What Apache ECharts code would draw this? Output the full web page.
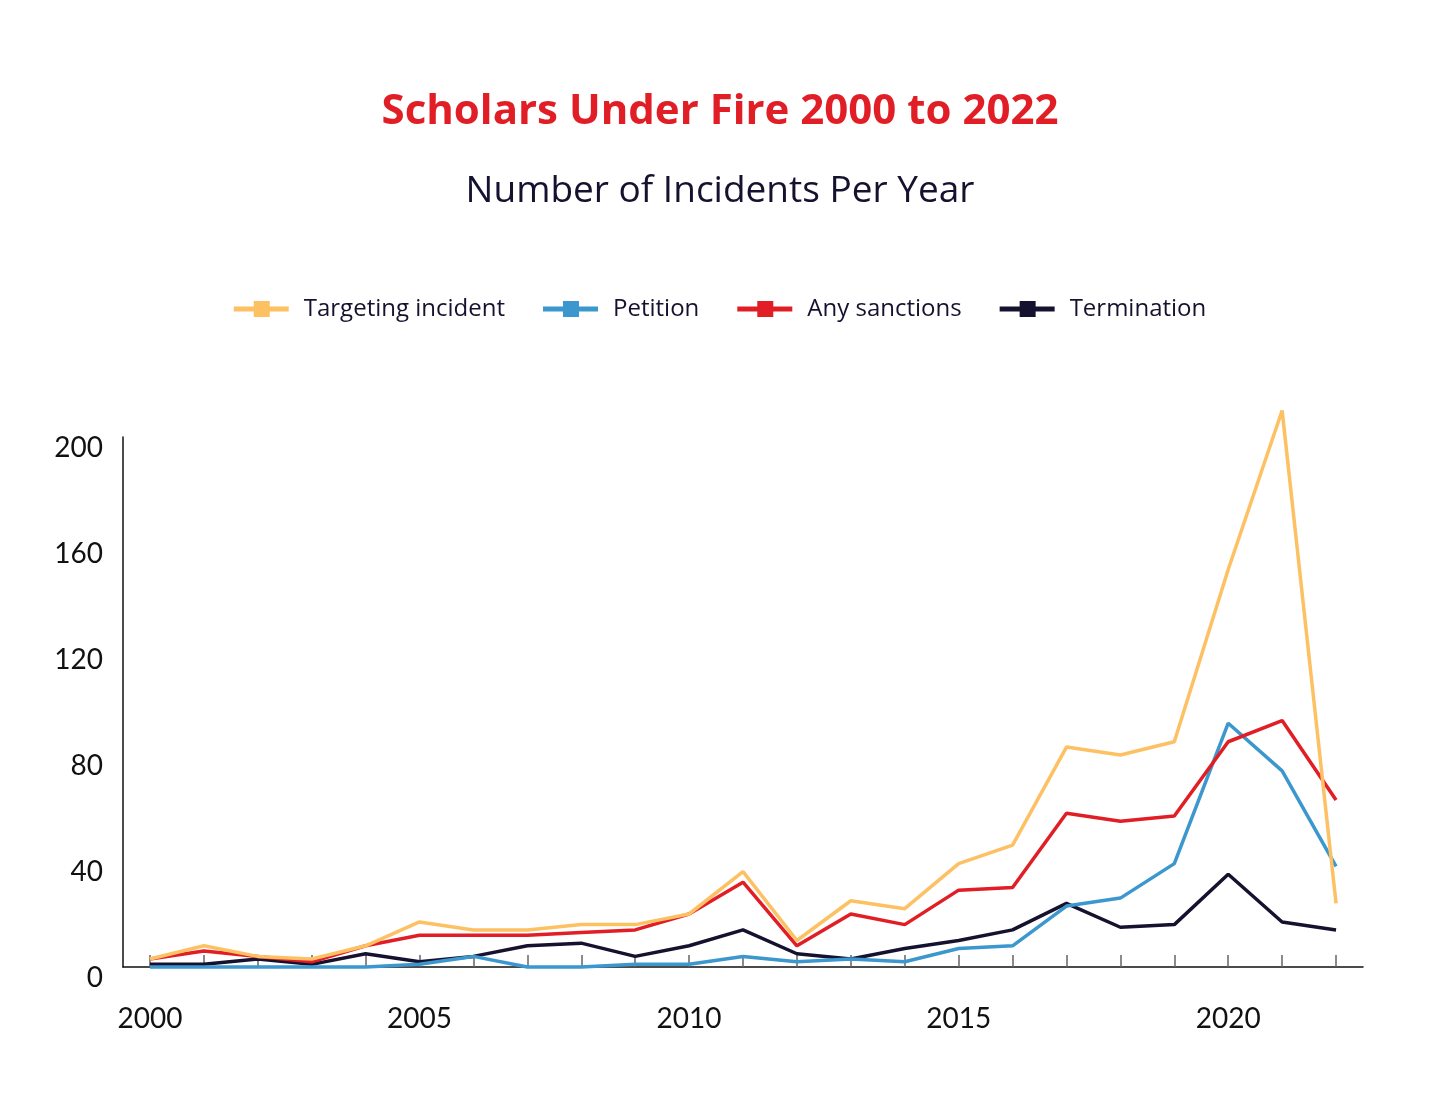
<!DOCTYPE html>
<html>
<head>
<meta charset="utf-8">
<script src="https://cdn.jsdelivr.net/npm/echarts@6/dist/echarts.min.js"></script>
<style>
html,body{margin:0;padding:0;background:#fff;}
#chart{width:1440px;height:1119px;}
</style>
</head>
<body>
<div id="chart"></div>
<script>
const years = ['2000','2001','2002','2003','2004','2005','2006','2007','2008','2009','2010','2011','2012','2013','2014','2015','2016','2017','2018','2019','2020','2021','2022'];
const yTicks = [0, 40, 80, 120, 160, 200];
const targeting = [3, 8, 4, 3, 8, 17, 14, 14, 16, 16, 20, 36, 10, 25, 22, 39, 46, 83, 80, 85, 150, 210, 24];
const petition  = [0, 0, 0, 0, 0, 1, 4, 0, 0, 1, 1, 4, 2, 3, 2, 7, 8, 23, 26, 39, 92, 74, 38];
const sanctions = [3, 6, 4, 2, 8, 12, 12, 12, 13, 14, 20, 32, 8, 20, 16, 29, 30, 58, 55, 57, 85, 93, 63];
const termination = [1, 1, 3, 1, 5, 2, 4, 8, 9, 4, 8, 14, 5, 3, 7, 10, 14, 24, 15, 16, 35, 17, 14];

const names = ['Targeting incident', 'Petition', 'Any sanctions', 'Termination'];
const colors = {
  'Targeting incident': '#FDC163',
  'Petition': '#3B97CD',
  'Any sanctions': '#E11E26',
  'Termination': '#15122F'
};
const iconPath = 'path://M0,5.5 h55 v5 h-55 z M20,0 h16 v16 h-16 z';

function mk(name, data, z) {
  return {
    name: name, type: 'line', data: data, symbol: 'none', clip: false, z: z,
    lineStyle: { width: 3.5, color: colors[name] },
    itemStyle: { color: colors[name] }
  };
}

const chart = echarts.init(document.getElementById('chart'));
chart.setOption({
  backgroundColor: '#ffffff',
  animation: false,
  title: [
    { text: 'Scholars Under Fire 2000 to 2022', left: 'center', top: 86,
      textStyle: { color: '#E11E26', fontSize: 42, fontWeight: 'bold', fontFamily: 'Open Sans' } },
    { text: 'Number of Incidents Per Year', left: 'center', top: 168,
      textStyle: { color: '#15122F', fontSize: 37, fontWeight: 'normal', fontFamily: 'Open Sans' } }
  ],
  legend: {
    data: names.map(n => ({ name: n, icon: iconPath })),
    top: 292, left: 'center',
    itemWidth: 55, itemHeight: 16, itemGap: 38,
    textStyle: { color: '#15122F', fontSize: 24, fontFamily: 'Open Sans', padding: [0, 0, 0, 10] }
  },
  grid: { left: 123, right: 77, top: 437, bottom: 152, containLabel: false },
  xAxis: {
    type: 'category', data: years, boundaryGap: true,
    axisLine: { lineStyle: { color: '#111111', width: 1.5 } },
    axisTick: { show: true, inside: true, alignWithLabel: true, interval: 0, length: 12, lineStyle: { color: '#666666', width: 1.5 } },
    axisLabel: { interval: 4, margin: 38, color: '#111111', fontSize: 28, fontFamily: 'Lato' },
    splitLine: { show: false }
  },
  yAxis: {
    type: 'value', min: yTicks[0], max: yTicks[yTicks.length - 1], interval: 40,
    axisLine: { show: true, lineStyle: { color: '#111111', width: 1.5 } },
    axisTick: { show: false },
    splitLine: { show: false },
    axisLabel: { margin: 20, color: '#111111', fontSize: 28, fontFamily: 'Lato', verticalAlign: 'top', lineHeight: 22 }
  },
  series: [
    mk('Termination', termination, 2),
    mk('Petition', petition, 3),
    mk('Any sanctions', sanctions, 4),
    mk('Targeting incident', targeting, 5)
  ]
});
</script>
</body>
</html>
